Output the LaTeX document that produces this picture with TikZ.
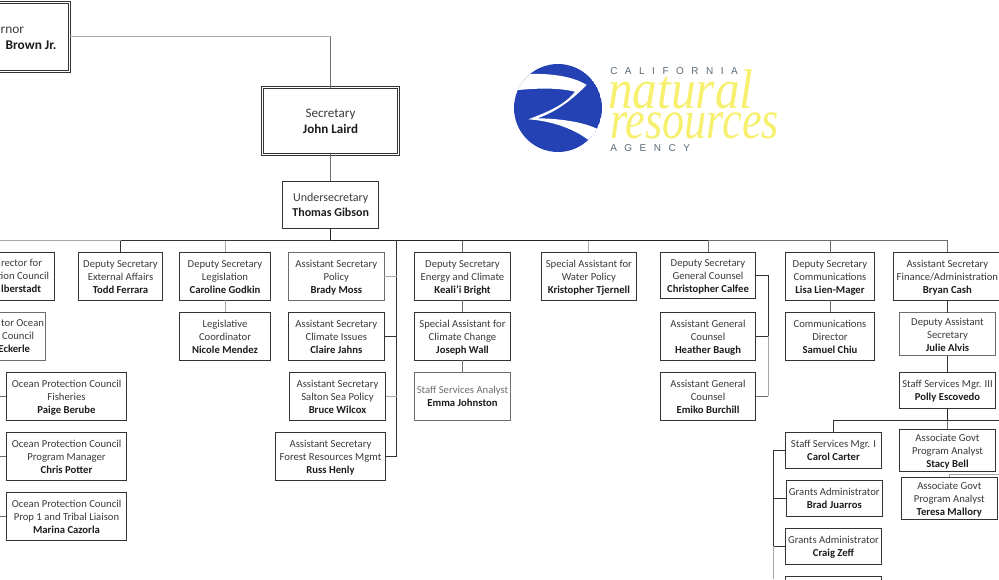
\documentclass[tikz,border=0pt]{standalone}
\usepackage{fontspec}
\setmainfont{Carlito}
\newfontfamily\logosans{Liberation Sans}
\newfontfamily\logoserif{Liberation Serif}
\definecolor{ink}{HTML}{3A3A3A}
\definecolor{name}{HTML}{1C1C1C}
\definecolor{soft}{HTML}{A8A8A8}
\definecolor{mid}{HTML}{6E6E6E}
\definecolor{dark}{HTML}{333333}
\definecolor{logoblue}{HTML}{2442B4}
\definecolor{logoyellow}{HTML}{F6F06E}
\definecolor{logogray}{HTML}{5A6A78}
\newcommand{\nm}[1]{{\color{name}\bfseries #1}}
\tikzset{
  orgbox/.style={draw=dark,line width=0.75pt,inner sep=0pt,outer sep=0pt,align=center,text=ink,
    font=\fontsize{8}{9.75}\selectfont},
  softbox/.style={orgbox,draw=mid},
  underbox/.style={orgbox,font=\fontsize{9}{11.25}\selectfont},
  bigbox/.style={orgbox,double,double distance=0.8pt,font=\fontsize{9.8}{12}\selectfont},
  cutline/.style={inner sep=0pt,outer sep=0pt,text=ink,font=\fontsize{8}{9.75}\selectfont,anchor=base east},
  softline/.style={draw=soft,line width=0.75pt},
  midline/.style={draw=mid,line width=0.75pt},
  thinline/.style={draw=dark,line width=0.75pt},
  darkline/.style={draw=black!85,line width=1.35pt},
  bracketline/.style={draw=dark,line width=1pt},
  logotext/.style={inner sep=0pt,anchor=base west,text=logoyellow,transform shape},
  logosmall/.style={inner sep=0pt,anchor=base west,text=logogray,font=\fontsize{7.5}{8}\logosans\addfontfeature{LetterSpace=75}},
}
\newcommand{\orgnode}[7][orgbox]{%
  \pgfmathsetmacro\bw{(#5-#3)*0.75}\pgfmathsetmacro\bh{(#6-#4)*0.75}%
  \node[#1,minimum width=\bw pt,minimum height=\bh pt] (#2) at ({(#3+#5)/2},{(#4+#6)/2}) {\rule{0pt}{\dimexpr\ht\strutbox+2.2pt\relax}#7\strut};}
\begin{document}
\begin{tikzpicture}[x=0.75pt,y=-0.75pt]
\useasboundingbox (0,0) rectangle (999,579);
\clip (0,0) rectangle (999,579);

% boxes
\draw[thinline,double,double distance=0.8pt] (-70,2.5) rectangle (69.5,71.5);
\coordinate (gove) at (69.5,36.5);
\node[cutline,font=\fontsize{10}{12}\selectfont] (govt) at (24,33) {rnor};
\node[cutline,font=\fontsize{10}{12}\selectfont\bfseries,text=name] (govn) at (56.5,49) {Brown Jr.};
\orgnode[bigbox]{sec}{262.7}{87.7}{398.3}{154.3}{Secretary\\\nm{John Laird}}
\orgnode[underbox]{under}{282.7}{181}{378.7}{228.3}{Undersecretary\\\nm{Thomas Gibson}}

\draw[thinline] (-60,252.3) rectangle (54.3,300.3);
\node[cutline] (opca) at (42,266.5) {rector for};
\node[cutline] (opcb) at (49,279.5) {tion Council};
\node[cutline,text=name,font=\fontsize{8}{9.75}\selectfont\bfseries] (opcc) at (41,292.5) {lberstadt};
\draw[draw=mid,line width=0.75pt] (-60,312.3) rectangle (45.7,360.3);
\node[cutline] (dira) at (44,326.5) {tor Ocean};
\node[cutline] (dirb) at (34,339.5) {Council};
\node[cutline,text=name,font=\fontsize{8}{9.75}\selectfont\bfseries] (dirc) at (30,352.5) {Eckerle};

\orgnode{fer}{78.3}{252.3}{162.7}{300.3}{Deputy Secretary\\External Affairs\\\nm{Todd Ferrara}}
\orgnode{god}{179.3}{252.3}{270.7}{300.3}{Deputy Secretary\\Legislation\\\nm{Caroline Godkin}}
\orgnode{men}{179.3}{312.3}{270.7}{360.3}{Legislative\\Coordinator\\\nm{Nicole Mendez}}
\orgnode[softbox]{mos}{288.3}{252.3}{384.3}{300.3}{Assistant Secretary\\Policy\\\nm{Brady Moss}}
\orgnode{jah}{288.3}{312.3}{384.3}{360.3}{Assistant Secretary\\Climate Issues\\\nm{Claire Jahns}}
\orgnode{wil}{289.3}{372.3}{385.7}{420.3}{Assistant Secretary\\Salton Sea Policy\\\nm{Bruce Wilcox}}
\orgnode{hen}{275.3}{432.3}{385.7}{480.3}{Assistant Secretary\\Forest Resources Mgmt\\\nm{Russ Henly}}
\orgnode{ber}{6.3}{372.3}{126.7}{420.3}{Ocean Protection Council\\Fisheries\\\nm{Paige Berube}}
\orgnode{pot}{6.3}{432.3}{126.7}{480.3}{Ocean Protection Council\\Program Manager\\\nm{Chris Potter}}
\orgnode{caz}{6.3}{492.3}{126.7}{540.3}{Ocean Protection Council\\Prop 1 and Tribal Liaison\\\nm{Marina Cazorla}}
\orgnode{bri}{414.7}{252.3}{510.3}{300.3}{Deputy Secretary\\Energy and Climate\\\nm{Keali'i Bright}}
\orgnode{wal}{414.7}{312.3}{510.3}{360.3}{Special Assistant for\\Climate Change\\\nm{Joseph Wall}}
\orgnode[softbox]{joh}{414.7}{372.3}{510.3}{420.3}{{\color{mid}Staff Services Analyst}\\\nm{Emma Johnston}}
\orgnode{tje}{541}{252.3}{636.7}{300.3}{Special Assistant for\\Water Policy\\\nm{Kristopher Tjernell}}
\orgnode{cal}{660.3}{252.3}{755.7}{298.3}{Deputy Secretary\\General Counsel\\\nm{Christopher Calfee}}
\orgnode{bau}{660.3}{312.3}{755.7}{360.3}{Assistant General\\Counsel\\\nm{Heather Baugh}}
\orgnode{bur}{660.3}{372.3}{755.7}{420.3}{Assistant General\\Counsel\\\nm{Emiko Burchill}}
\orgnode{lie}{785.3}{252.7}{874.7}{300.3}{Deputy Secretary\\Communications\\\nm{Lisa Lien-Mager}}
\orgnode{chi}{785.3}{312.3}{874.7}{360.3}{Communications\\Director\\\nm{Samuel Chiu}}
\orgnode{cas}{893.3}{252.3}{1001.5}{300.3}{Assistant Secretary\\Finance/Administration\\\nm{Bryan Cash}}
\orgnode[softbox]{alv}{899.7}{312.7}{995.3}{355.7}{Deputy Assistant\\Secretary\\\nm{Julie Alvis}}
\orgnode{esc}{899.7}{372.3}{995.3}{408.3}{Staff Services Mgr. III\\\nm{Polly Escovedo}}
\orgnode{car}{785.3}{432.3}{881.7}{468.3}{Staff Services Mgr. I\\\nm{Carol Carter}}
\orgnode{bel}{899.7}{432.3}{995.3}{468.3}{Associate Govt\\Program Analyst\\\nm{Stacy Bell}}
\orgnode{mal}{901.3}{480.3}{997.3}{516.3}{Associate Govt\\Program Analyst\\\nm{Teresa Mallory}}
\orgnode{jua}{786.3}{480.3}{882.3}{516.3}{Grants Administrator\\\nm{Brad Juarros}}
\orgnode{zef}{785.3}{528.3}{881.7}{564.3}{Grants Administrator\\\nm{Craig Zeff}}
\draw[thinline] (785.3,620) rectangle (881.7,576.3);

% coordinates
\coordinate (busL) at (0,240.5);
\coordinate (busA) at (120.7,240.5);
\coordinate (busB) at (225,240.5);
\coordinate (busC) at (330.5,240.5);
\coordinate (busD) at (396.7,240.5);
\coordinate (busE) at (462.5,240.5);
\coordinate (busF) at (588.7,240.5);
\coordinate (busG) at (708,240.5);
\coordinate (busH) at (830,240.5);
\coordinate (busI) at (947.5,240.5);
\coordinate (corner) at (330.5,36.5);
\coordinate (gc) at (768.3,275.7);
\coordinate (tree) at (947.5,420.3);
\coordinate (treeL) at (833.5,420.3);
\coordinate (treeR) at (999,420.3);
\coordinate (malT) at (949.3,474.3);
\coordinate (malR) at (999,474.3);
\coordinate (spine) at (773.7,450.3);
\coordinate (spineE) at (773.7,579);

% connectors
\draw[softline] (gove) -- (corner);
\draw[midline] (corner) -- (sec.north -| corner);
\draw[midline] (sec.south -| corner) -- (under.north -| corner);
\draw[darkline] (under.south -| corner) -- (busC);
\draw[softline] (busL) -- (busA);
\draw[thinline] (busA) -- (busC);
\draw[darkline] (busC) -- (busG);
\draw[midline] (busG) -- (busI);
\draw[thinline] (busA) -- (fer.north -| busA);
\draw[softline] (busB) -- (god.north -| busB);
\draw[softline] (god.south -| busB) -- (men.north -| busB);
\draw[thinline] (busD) -- (hen.east -| busD) -- (hen.east);
\draw[softline] (mos.east) -- (mos.east -| busD);
\draw[thinline] (jah.east) -- (jah.east -| busD);
\draw[softline] (wil.east) -- (wil.east -| busD);
\draw[midline] (busE) -- (bri.north -| busE);
\draw[midline] (bri.south -| busE) -- (wal.north -| busE);
\draw[midline] (wal.south -| busE) -- (joh.north -| busE);
\draw[softline] (busF) -- (tje.north -| busF);
\draw[midline] (busG) -- (cal.north -| busG);
\draw[bracketline] (gc -| cal.east) -- (gc) -- (bau.east -| gc) -- (bau.east);
\draw[softline] (bau.east -| gc) -- (bur.east -| gc);
\draw[midline] (bur.east -| gc) -- (bur.east);
\draw[midline] (busH) -- (lie.north -| busH);
\draw[midline] (lie.south -| busH) -- (chi.north -| busH);
\draw[midline] (busI) -- (cas.north -| busI);
\draw[thinline] (cas.south -| busI) -- (alv.north -| busI);
\draw[thinline] (alv.south -| busI) -- (esc.north -| busI);
\draw[darkline] (esc.south -| tree) -- (tree);
\draw[midline] (tree) -- (bel.north -| tree);
\draw[thinline] (car.north -| treeL) -- (treeL) -- (treeR);
\draw[softline] (malR) -- (malT) -- (mal.north -| malT);
\draw[thinline] (spine) -- (car.west |- spine);
\draw[thinline] (spine) -- (zef.west -| spine) -- (zef.west);
\draw[thinline] (jua.west -| spine) -- (jua.west);
\draw[softline] (zef.west -| spine) -- (spineE);
\draw[midline] (ber.west -| busL) -- (ber.west);
\draw[midline] (pot.west -| busL) -- (pot.west);
\draw[midline] (caz.west -| busL) -- (caz.west);

% logo
\begin{scope}
  \clip (558,108) circle [radius=44];
  \fill[logoblue] (558,108) circle [radius=44];
  \begin{scope}[shift={(500,50)},x=0.25pt,y=-0.25pt]
    \fill[white] (20,72) -- (97,72)
      .. controls (170,70) and (230,85) .. (260,105)
      .. controls (215,150) and (170,185) .. (112,205)
      .. controls (170,205) and (250,215) .. (292,237)
      -- (330,240) -- (300,290) -- (262,268)
      .. controls (220,235) and (150,212) .. (85,208)
      .. controls (130,190) and (190,170) .. (225,125)
      .. controls (170,112) and (110,115) .. (55,120)
      -- (20,120) -- cycle;
  \end{scope}
\end{scope}
\node[logotext,xscale=.88,font=\fontsize{42}{42}\logoserif\itshape] (nat) at (608,108) {natural};
\node[logotext,xscale=.81,font=\fontsize{41}{41}\logoserif\itshape] (res) at (610,138) {resources};
\node[logosmall] (ca) at (610,74.5) {CALIFORNIA};
\node[logosmall] (ag) at (610,151.5) {AGENCY};
\end{tikzpicture}
\end{document}
